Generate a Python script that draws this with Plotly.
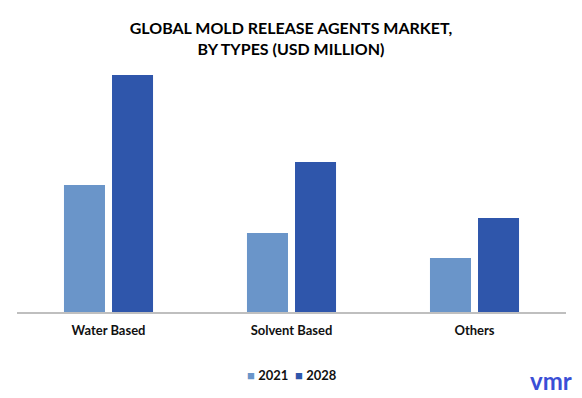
import plotly.graph_objects as go

categories = ["Water Based", "Solvent Based", "Others"]
values_2021 = [127, 79, 54]
values_2028 = [237, 150, 94]
series_names = ["2021", "2028"]
colors = ["#6a95c9", "#2f56ab"]

fig = go.Figure()
for name, vals, col in zip(series_names, [values_2021, values_2028], colors):
    fig.add_trace(go.Bar(x=categories, y=vals, name=name, marker=dict(color=col, line=dict(width=0))))

FONT = "Lato, Open Sans, sans-serif"
fig.update_layout(
    width=582, height=398,
    margin=dict(l=17, r=16, t=60, b=86),
    paper_bgcolor="white", plot_bgcolor="white",
    barmode="group", bargap=0.475, bargroupgap=0.146,
    title=dict(text="<b>GLOBAL MOLD RELEASE AGENTS MARKET,<br>BY TYPES (USD MILLION)</b>",
               x=0.5, xanchor="center", y=0.915, yanchor="middle",
               font=dict(family=FONT, size=16, color="#000000", weight=900)),
    font=dict(family=FONT, color="#111111"),
    xaxis=dict(showline=True, linecolor="#bfbfbf", linewidth=1.5, ticks="",
               ticklabelstandoff=6,
               tickfont=dict(size=13, color="#111111", weight="bold"), showgrid=False),
    yaxis=dict(range=[0, 252], visible=False, showgrid=False),
    showlegend=False,
)
legend_text = "  ".join(
    f"<span style='color:{c}'>■</span> <b>{n}</b>" for n, c in zip(series_names, colors)
)
fig.add_annotation(text=legend_text, xref="paper", yref="paper", x=0.5, y=-0.25,
                   xanchor="center", yanchor="middle", showarrow=False,
                   font=dict(family=FONT, size=13, color="#111111"))
fig.add_annotation(text="<b>vmr</b>", xref="paper", yref="paper", x=1.015, y=-0.27,
                   xanchor="right", yanchor="middle", showarrow=False,
                   font=dict(family=FONT, size=24, color="#3a4fd6"))
fig.write_html("out.html", config={"displayModeBar": False},
               post_script="document.body.style.margin='0';")
